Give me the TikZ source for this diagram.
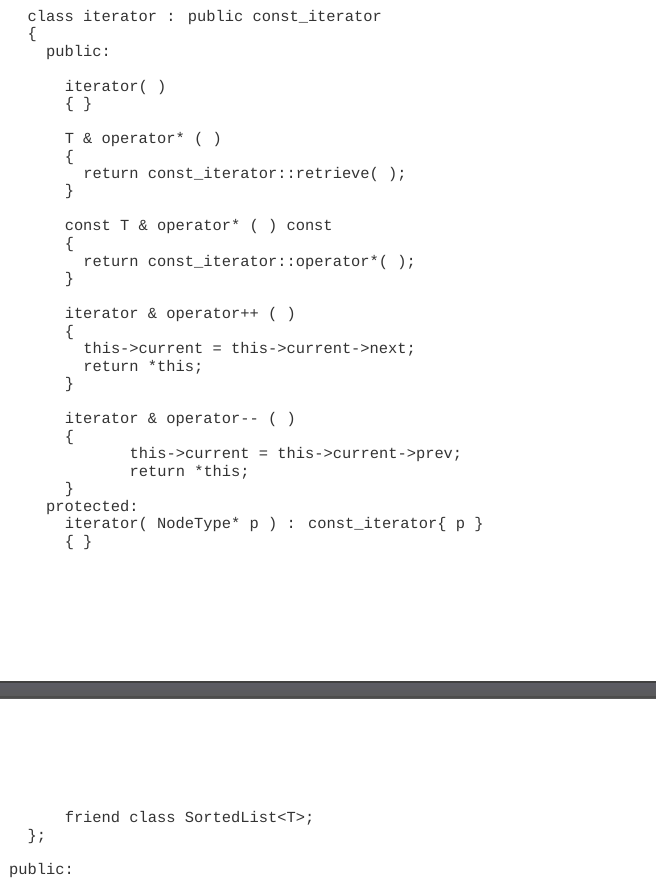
\documentclass[tikz,border=0pt]{standalone}
\usepackage{fontspec}
\newfontfamily\codefont{Liberation Mono}
\definecolor{codecol}{HTML}{333333}
\begin{document}
\begin{tikzpicture}[x=1pt,y=-1pt,
  code/.style={anchor=base west,inner sep=0pt,font=\codefont\fontsize{15.4}{18}\selectfont,text=codecol}]
\useasboundingbox (0,0) rectangle (656,881);
\fill[white] (0,0) rectangle (656,881);
\shade[top color=black!80!blue!20!gray!90!black,bottom color=gray!70!black] (0,681) rectangle (656,698);
\fill[black!75] (0,681) rectangle (656,683);
\fill[black!70] (0,696) rectangle (656,698);
\def\cw{9.26}
\newcommand\cl[4]{\node[code] (#1) at (9+#2*\cw,#3+5) {#4};}
\cl{l1}{2}{16}{class iterator : public const\_iterator}
\cl{l2}{2}{33}{\{}
\cl{l3}{4}{51}{public:}
\cl{l4}{6}{86}{iterator( )}
\cl{l5}{6}{103}{\{ \}}
\cl{l6}{6}{138}{T \& operator* ( )}
\cl{l7}{6}{156}{\{}
\cl{l8}{8}{173}{return const\_iterator::retrieve( );}
\cl{l9}{6}{190}{\}}
\cl{l10}{6}{225}{const T \& operator* ( ) const}
\cl{l11}{6}{243}{\{}
\cl{l12}{8}{261}{return const\_iterator::operator*( );}
\cl{l13}{6}{278}{\}}
\cl{l14}{6}{313}{iterator \& operator++ ( )}
\cl{l15}{6}{331}{\{}
\cl{l16}{8}{348}{this->current = this->current->next;}
\cl{l17}{8}{366}{return *this;}
\cl{l18}{6}{383}{\}}
\cl{l19}{6}{418}{iterator \& operator-{}- ( )}
\cl{l20}{6}{436}{\{}
\cl{l21}{13}{453}{this->current = this->current->prev;}
\cl{l22}{13}{471}{return *this;}
\cl{l23}{6}{488}{\}}
\cl{l24}{4}{506}{protected:}
\cl{l25}{6}{523}{iterator( NodeType* p ) : const\_iterator\{ p \}}
\cl{l26}{6}{541}{\{ \}}
\cl{l27}{6}{817}{friend class SortedList<T>;}
\cl{l28}{2}{835}{\};}
\cl{l29}{0}{869}{public:}
\end{tikzpicture}
\end{document}
